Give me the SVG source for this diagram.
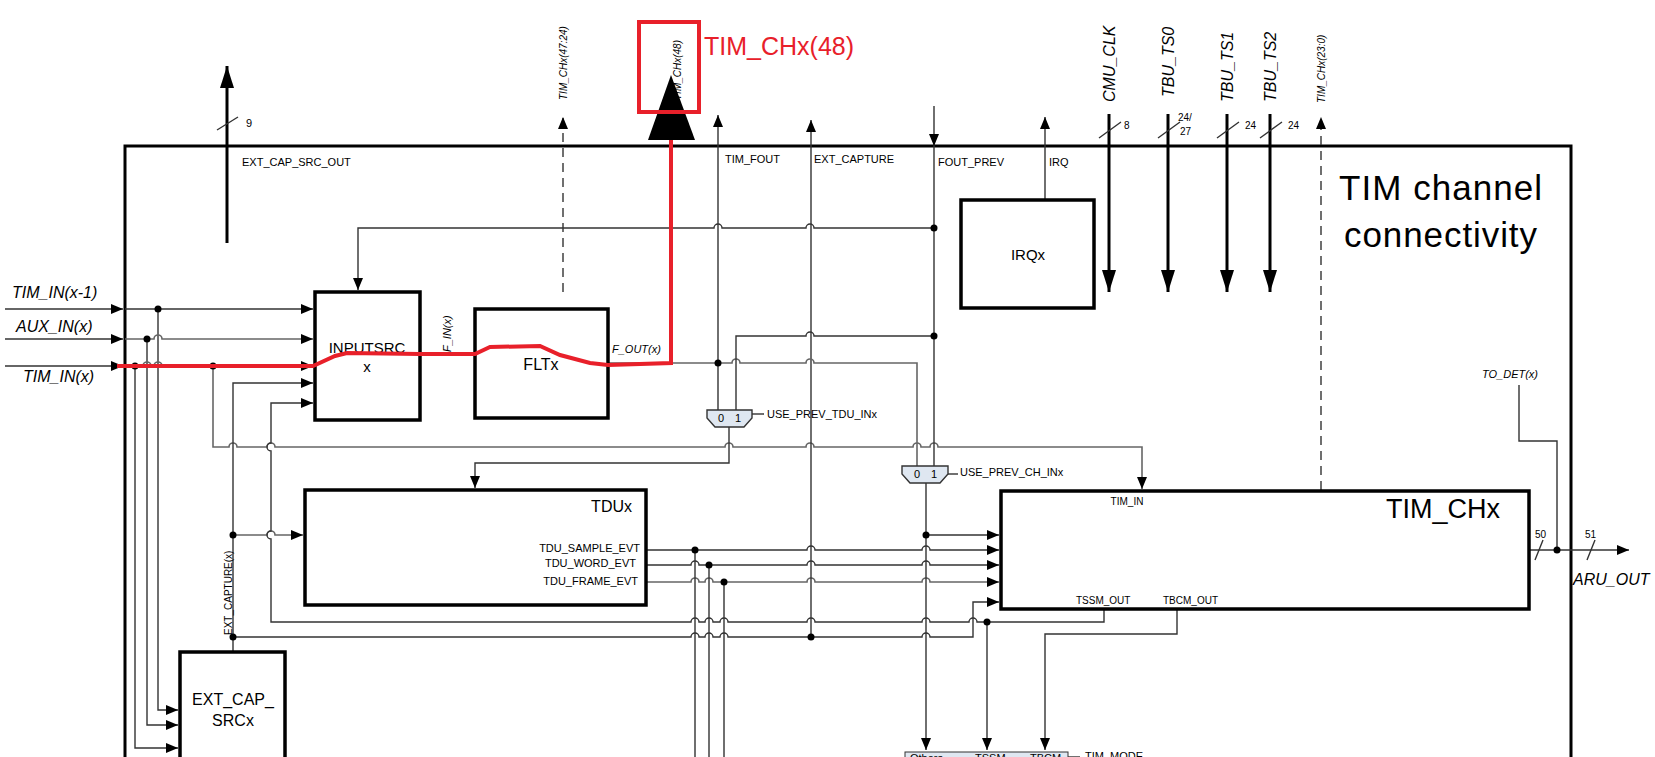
<svg xmlns="http://www.w3.org/2000/svg" width="1655" height="757" viewBox="0 0 1655 757">
<defs>
<marker id="a" markerUnits="userSpaceOnUse" markerWidth="12" markerHeight="10" refX="12" refY="5" orient="auto"><path d="M0,0 L12,5 L0,10 z" fill="#000"/></marker>
<marker id="b" markerUnits="userSpaceOnUse" markerWidth="22" markerHeight="14" refX="22" refY="7" orient="auto"><path d="M0,0 L22,7 L0,14 z" fill="#000"/></marker>
<style>
.w{fill:none;stroke:#333;stroke-width:1.4}
.g{fill:none;stroke:#666;stroke-width:1.6}
.t{fill:none;stroke:#000;stroke-width:3}
.box{fill:#fff;stroke:#000;stroke-width:3.5}
.mux{fill:#dfe7f1;stroke:#333;stroke-width:1.4}
text{font-family:"Liberation Sans",Arial,sans-serif;fill:#000}
.s{font-size:11px}
.i{font-style:italic}
.m{font-size:16px}
</style>
</defs>
<rect width="1655" height="757" fill="#fff"/>
<g id="frame"><path d="M125,760 V146 H1571 V760" fill="none" stroke="#000" stroke-width="3"/>
<text x="1339" y="200" font-size="35" textLength="203">TIM channel</text><text x="1344" y="247" font-size="35" textLength="193">connectivity</text></g>

<g id="connectors">
<path class="w" d="M5,309 H123" marker-end="url(#a)"/>
<path class="w" d="M5,339 H123" marker-end="url(#a)"/>
<path class="w" d="M5,366 H123" marker-end="url(#a)"/>
<path class="w" d="M125,309 H313" marker-end="url(#a)"/>
<path class="w" d="M158,309 V710 H178" marker-end="url(#a)"/>
<path class="g" d="M125,339 H154 a4,4 0 0 1 8,0 H313" marker-end="url(#a)"/>
<path class="w" d="M147,339 V725 H178" marker-end="url(#a)"/>
<path class="g" d="M125,366 H143 a4,4 0 0 1 8,0 H154 a4,4 0 0 1 8,0 H313" marker-end="url(#a)"/>
<path class="w" d="M135,366 V748 H178" marker-end="url(#a)"/>
<path class="g" d="M213,366 V447 H229 a4,4 0 0 1 8,0 H267 a4,4 0 0 1 8,0 H725 a4,4 0 0 1 8,0 H806 a4,4 0 0 1 8,0 H913 a4,4 0 0 1 8,0 H930 a4,4 0 0 1 8,0 H1142 V489" marker-end="url(#a)"/>
<path class="w" d="M233,652 V383 H313" marker-end="url(#a)"/>
<path class="g" d="M233,535 H267 a4,4 0 0 1 8,0 H303" marker-end="url(#a)"/>
<path class="w" d="M233,637 H691 a4,4 0 0 1 8,0 H705 a4,4 0 0 1 8,0 H720 a4,4 0 0 1 8,0 H922 a4,4 0 0 1 8,0 H973 V602 H999" marker-end="url(#a)"/>
<path class="w" d="M1104,609 V622 H977 a4,4 0 0 0 -8,0 H930 a4,4 0 0 0 -8,0 H815 a4,4 0 0 0 -8,0 H728 a4,4 0 0 0 -8,0 H713 a4,4 0 0 0 -8,0 H699 a4,4 0 0 0 -8,0 H271 V539 a4,4 0 0 1 0,-8 V451 a4,4 0 0 1 0,-8 V403 H313" marker-end="url(#a)"/>
<path class="w" d="M987,622 V750" marker-end="url(#a)"/>
<path class="w" d="M1177,609 V634 H1045 V750" marker-end="url(#a)"/>
<path class="w" d="M646,550 H807 a4,4 0 0 1 8,0 H922 a4,4 0 0 1 8,0 H999" marker-end="url(#a)"/>
<path class="w" d="M646,565 H691 a4,4 0 0 1 8,0 H807 a4,4 0 0 1 8,0 H922 a4,4 0 0 1 8,0 H999" marker-end="url(#a)"/>
<path class="g" d="M646,582 H691 a4,4 0 0 1 8,0 H705 a4,4 0 0 1 8,0 H807 a4,4 0 0 1 8,0 H922 a4,4 0 0 1 8,0 H999" marker-end="url(#a)"/>
<path class="w" d="M695,550 V757 M709,565 V757 M724,582 V757"/>
<path class="w" d="M926,483 V750" marker-end="url(#a)"/>
<path class="w" d="M926,535 H999" marker-end="url(#a)"/>
<path class="w" d="M718,410 V115" marker-end="url(#a)"/>
<path class="w" d="M811,637 V120" marker-end="url(#a)"/>
<path class="w" d="M934,106 V146" marker-end="url(#a)"/>
<path class="w" d="M934,146 V466"/>
<path class="w" d="M1045,200 V117" marker-end="url(#a)"/>
<path class="g" d="M608,363 H732 a4,4 0 0 1 8,0 H806 a4,4 0 0 1 8,0 H917 V466"/>
<path class="w" d="M934,336 H814 a4,4 0 0 0 -8,0 H736 V410"/>
<path class="w" d="M729,427 V463 H475 V488" marker-end="url(#a)"/>
<path class="w" d="M934,228 H814 a4,4 0 0 0 -8,0 H722 a4,4 0 0 0 -8,0 H358 V290" marker-end="url(#a)"/>
<path class="w" d="M563,292 V117" stroke-dasharray="9,6" marker-end="url(#a)"/>
<path class="w" d="M1321,490 V117" stroke-dasharray="9,6" marker-end="url(#a)"/>
<path class="w" d="M1519,385 V441 H1557 V550"/>
<path class="w" d="M1529,550 H1629" marker-end="url(#a)"/>
<path class="w" d="M1535,560 L1543,540 M1587,560 L1595,540"/>
<path class="w" d="M764,414 H752"/>
<path class="w" d="M958,474 H948"/>
<path class="w" d="M1068,757 H1080"/>
<path class="t" d="M227,243 V66" marker-end="url(#b)"/>
<path class="w" d="M217,130 L238,117"/>
<path class="t" d="M1109,114 V292" marker-end="url(#b)"/>
<path class="t" d="M1168,114 V292" marker-end="url(#b)"/>
<path class="t" d="M1227,114 V292" marker-end="url(#b)"/>
<path class="t" d="M1270,114 V292" marker-end="url(#b)"/>
<path class="w" d="M1099,138 L1121,122 M1158,138 L1180,122 M1217,138 L1239,122 M1260,138 L1282,122"/>
<g fill="#000"><circle cx="158" cy="309" r="3.5"/><circle cx="147" cy="339" r="3.5"/><circle cx="135" cy="366" r="3.5"/><circle cx="213" cy="366" r="3.5"/><circle cx="233" cy="535" r="3.5"/><circle cx="233" cy="637" r="3.5"/><circle cx="811" cy="637" r="3.5"/><circle cx="987" cy="622" r="3.5"/><circle cx="695" cy="550" r="3.5"/><circle cx="709" cy="565" r="3.5"/><circle cx="724" cy="582" r="3.5"/><circle cx="926" cy="535" r="3.5"/><circle cx="718" cy="363" r="3.5"/><circle cx="934" cy="228" r="3.5"/><circle cx="934" cy="336" r="3.5"/><circle cx="1557" cy="550" r="3.5"/></g>
</g>

<g id="INPUTSRCx"><rect class="box" x="315" y="292" width="105" height="128"/><text x="367" y="353" text-anchor="middle" font-size="15">INPUTSRC</text><text x="367" y="372" text-anchor="middle" font-size="15">x</text></g>
<g id="FLTx"><rect class="box" x="475" y="309" width="133" height="109"/><text x="541" y="370" text-anchor="middle" font-size="16">FLTx</text></g>
<g id="IRQx"><rect class="box" x="961" y="200" width="133" height="108"/><text x="1028" y="260" text-anchor="middle" font-size="15">IRQx</text></g>
<g id="TDUx"><rect class="box" x="305" y="490" width="341" height="115"/><text x="632" y="512" text-anchor="end" font-size="16">TDUx</text>
<text class="s" x="640" y="552" text-anchor="end" font-size="10">TDU_SAMPLE_EVT</text><text class="s" x="636" y="567" text-anchor="end" font-size="10">TDU_WORD_EVT</text><text class="s" x="638" y="585" text-anchor="end" font-size="10">TDU_FRAME_EVT</text></g>
<g id="EXT_CAP_SRCx"><rect class="box" x="180" y="652" width="105" height="120"/><text x="233" y="705" text-anchor="middle" font-size="16">EXT_CAP_</text><text x="233" y="726" text-anchor="middle" font-size="16">SRCx</text></g>
<g id="TIM_CHx"><rect class="box" x="1001" y="491" width="528" height="118"/><text x="1386" y="518" font-size="27">TIM_CHx</text>
<text x="1127" y="505" font-size="10" text-anchor="middle">TIM_IN</text><text x="1076" y="604" font-size="10">TSSM_OUT</text><text x="1163" y="604" font-size="10">TBCM_OUT</text></g>
<g id="mux1"><polygon class="mux" points="707,410 752,410 752,418 744,427 715,427 707,418"/><text x="721" y="422" font-size="11" text-anchor="middle">0</text><text x="738" y="422" font-size="11" text-anchor="middle">1</text><text x="767" y="418" font-size="11">USE_PREV_TDU_INx</text></g>
<g id="mux2"><polygon class="mux" points="902,466 948,466 948,474 940,483 910,483 902,474"/><text x="917" y="478" font-size="11" text-anchor="middle">0</text><text x="934" y="478" font-size="11" text-anchor="middle">1</text><text x="960" y="476" font-size="11">USE_PREV_CH_INx</text></g>
<g id="TIM_MODE"><rect x="905" y="752" width="163" height="10" fill="#dfe7f1" stroke="#333"/><text x="910" y="762" font-size="11">Others</text><text x="975" y="762" font-size="11">TSSM</text><text x="1030" y="762" font-size="11">TBCM</text><text x="1085" y="760" font-size="11">TIM_MODE</text></g>

<g id="labels">
<text x="12" y="298" class="i m">TIM_IN(x-1)</text><text x="16" y="332" class="i m">AUX_IN(x)</text><text x="23" y="382" class="i m">TIM_IN(x)</text>
<text x="242" y="166" class="s">EXT_CAP_SRC_OUT</text><text x="246" y="127" class="s">9</text>
<text x="725" y="163" class="s">TIM_FOUT</text><text x="814" y="163" class="s">EXT_CAPTURE</text><text x="938" y="166" class="s">FOUT_PREV</text><text x="1049" y="166" class="s">IRQ</text>
<text x="1124" y="129" font-size="10">8</text><text x="1178" y="121" font-size="10">24/</text><text x="1180" y="135" font-size="10">27</text><text x="1245" y="129" font-size="10">24</text><text x="1288" y="129" font-size="10">24</text>
<text x="612" y="353" class="i s">F_OUT(x)</text>
<text transform="translate(451,352) rotate(-90)" class="i s">F_IN(x)</text>
<text transform="translate(567,100) rotate(-90)" class="i" font-size="10">TIM_CHx(47:24)</text>
<text transform="translate(681,100) rotate(-90)" class="i" font-size="10">TIM_CHx(48)</text>
<text transform="translate(1115,102) rotate(-90)" class="i m">CMU_CLK</text>
<text transform="translate(1174,97) rotate(-90)" class="i m">TBU_TS0</text>
<text transform="translate(1233,102) rotate(-90)" class="i m">TBU_TS1</text>
<text transform="translate(1276,102) rotate(-90)" class="i m">TBU_TS2</text>
<text transform="translate(1325,103) rotate(-90)" class="i" font-size="10">TIM_CHx(23:0)</text>
<text transform="translate(232,635) rotate(-90)" font-size="10" fill="#223">EXT_CAPTURE(x)</text>
<text x="1482" y="378" class="i s">TO_DET(x)</text>
<text x="1535" y="538" font-size="10">50</text><text x="1585" y="538" font-size="10">51</text>
<text x="1573" y="585" class="i m">ARU_OUT</text>
</g>

<g id="highlight">
<polygon points="671,75 648,140 695,140" fill="#000"/>
<path d="M117,366 L313,366 L335,356 L347,353 L420,354 L475,354 L490,347 L540,346 L560,355 L590,363 L608,365 L671,363 V140" fill="none" stroke="#e8202a" stroke-width="4"/>
<rect x="639" y="22" width="60" height="90" fill="none" stroke="#e8202a" stroke-width="4"/>
<text x="704" y="55" font-size="25" fill="#e8202a" style="fill:#e8202a">TIM_CHx(48)</text>
</g>
</svg>
